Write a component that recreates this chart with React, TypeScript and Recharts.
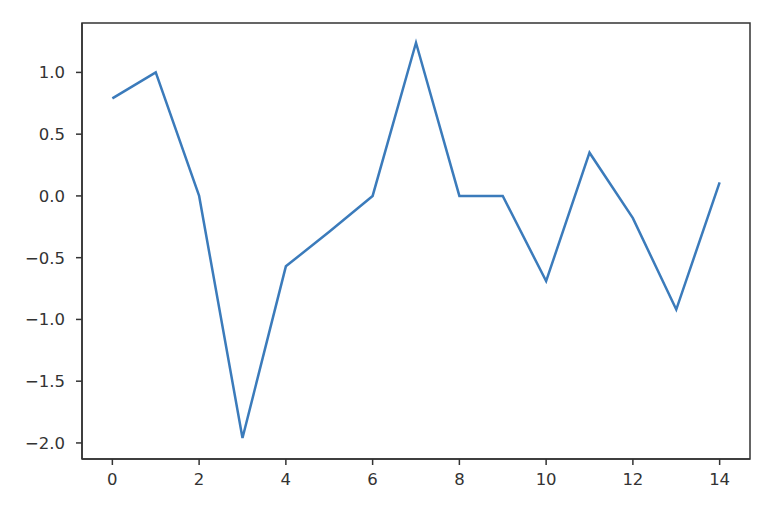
import React from 'react';
import { LineChart, Line, XAxis, YAxis, ReferenceArea } from 'recharts';

// values, one per step 0..14
const steps = [0, 1, 2, 3, 4, 5, 6, 7, 8, 9, 10, 11, 12, 13, 14];
const values = [0.79, 1.0, 0.0, -1.96, -0.57, -0.29, 0.0, 1.24, 0.0, 0.0, -0.69, 0.35, -0.18, -0.92, 0.11];

const xTicks = [0, 2, 4, 6, 8, 10, 12, 14];
const yTicks = [-2.0, -1.5, -1.0, -0.5, 0.0, 0.5, 1.0];

const xDomain: [number, number] = [-0.7, 14.7];
const yDomain: [number, number] = [-2.13, 1.4];

const data = steps.map((s, i) => ({ step: s, value: values[i] }));

const axisColor = '#333';
const tickStyle = { fill: '#333', fontSize: 16.5, fontFamily: 'DejaVu Sans' };

// matplotlib prints a real minus sign
const fmtY = (v: number) => v.toFixed(1).replace('-', '\u2212');

export default function App() {
    return (
        <div style={{ width: 766, height: 494, background: '#fff' }}>
            <LineChart width={766} height={494} data={data} margin={{ top: 15, right: 24, bottom: 0, left: 0 }}>
                <XAxis
                    dataKey="step"
                    type="number"
                    domain={xDomain}
                    ticks={xTicks}
                    height={43}
                    tickSize={6}
                    tickMargin={8}
                    stroke={axisColor}
                    strokeWidth={1.5}
                    tick={tickStyle}
                    allowDataOverflow
                />
                <YAxis
                    type="number"
                    domain={yDomain}
                    ticks={yTicks}
                    width={74}
                    tickSize={6}
                    tickMargin={11}
                    stroke={axisColor}
                    strokeWidth={1.5}
                    tick={tickStyle}
                    tickFormatter={fmtY}
                    allowDataOverflow
                />
                {/* box around the plot area */}
                <ReferenceArea
                    x1={xDomain[0]}
                    x2={xDomain[1]}
                    y1={yDomain[0]}
                    y2={yDomain[1]}
                    fill="none"
                    fillOpacity={0}
                    stroke={axisColor}
                    strokeWidth={1.5}
                    strokeOpacity={1}
                    ifOverflow="visible"
                />
                <Line
                    type="linear"
                    dataKey="value"
                    stroke="#3b7bbb"
                    strokeWidth={2.5}
                    dot={false}
                    isAnimationActive={false}
                />
            </LineChart>
        </div>
    );
}
